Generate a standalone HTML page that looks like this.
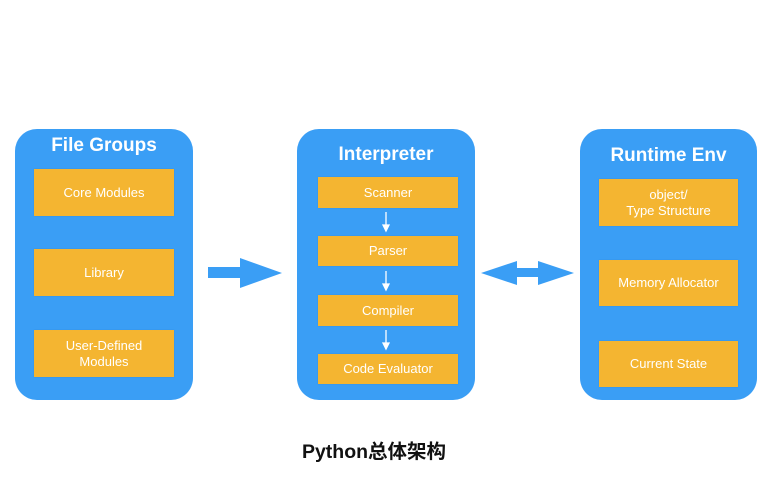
<!DOCTYPE html>
<html><head><meta charset="utf-8"><style>
body{margin:0;width:778px;height:500px;background:#fff;position:relative;overflow:hidden;font-family:"Liberation Sans","Noto Sans CJK SC",sans-serif}
.g{position:absolute;background:#3a9ef5;border-radius:22px}
.t{position:absolute;left:0;right:0;text-align:center;color:#fff;font-weight:bold;font-size:19px}
.b{position:absolute;background:#f4b531;color:#fff;font-size:13px;display:flex;align-items:center;justify-content:center;text-align:center;line-height:16px;box-shadow:0 0 1px rgba(0,0,0,.15)}
.cap{position:absolute;left:0;width:748px;top:435px;text-align:center;font-weight:bold;font-size:19.5px;color:#111}
</style></head><body>
<div class="g" style="left:15px;top:129px;width:178px;height:271px"><div class="t" style="top:6px">File Groups</div></div>
<div class="b" style="left:34px;top:169px;width:140px;height:47px">Core Modules</div>
<div class="b" style="left:34px;top:249px;width:140px;height:47px">Library</div>
<div class="b" style="left:34px;top:330px;width:140px;height:47px">User-Defined<br>Modules</div>

<div class="g" style="left:297px;top:129px;width:178px;height:271px"><div class="t" style="top:15px">Interpreter</div></div>
<div class="b" style="left:318px;top:177px;width:140px;height:31px">Scanner</div>
<div class="b" style="left:318px;top:236px;width:140px;height:30px">Parser</div>
<div class="b" style="left:318px;top:295px;width:140px;height:31px">Compiler</div>
<div class="b" style="left:318px;top:354px;width:140px;height:30px">Code Evaluator</div>

<div class="g" style="left:580px;top:129px;width:177px;height:271px"><div class="t" style="top:16px">Runtime Env</div></div>
<div class="b" style="left:599px;top:179px;width:139px;height:47px">object/<br>Type Structure</div>
<div class="b" style="left:599px;top:260px;width:139px;height:46px">Memory Allocator</div>
<div class="b" style="left:599px;top:341px;width:139px;height:46px">Current State</div>

<svg style="position:absolute;left:0;top:0" width="778" height="500">
<g stroke="#fff" stroke-width="1.3" fill="#fff">
<line x1="386" y1="212" x2="386" y2="226"/><polygon points="383,225 389,225 386,231" />
<line x1="386" y1="271" x2="386" y2="285"/><polygon points="383,284 389,284 386,290" />
<line x1="386" y1="330" x2="386" y2="344"/><polygon points="383,343 389,343 386,349" />
</g>
<polygon fill="#3a9ef5" points="208,267 240,267 240,258 282,273 240,288 240,278 208,278"/>
<polygon fill="#3a9ef5" points="481,273 517,261 517,268 538,268 538,261 574,273 538,285 538,277 517,277 517,285"/>
</svg>
<div class="cap">Python总体架构</div>
</body></html>
